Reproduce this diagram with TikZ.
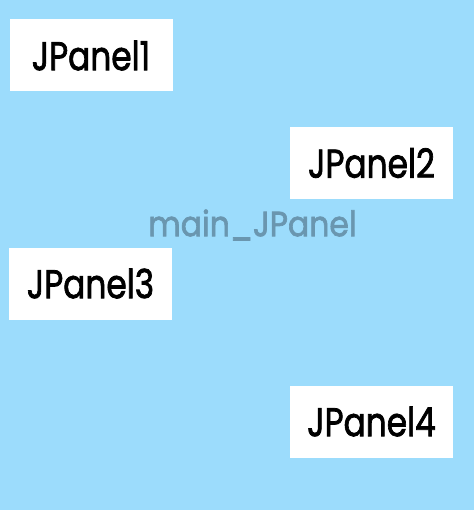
\documentclass[tikz,border=0pt]{standalone}
\usepackage{graphicx}
\usepackage{fontspec}
\setmainfont{Poppins}
\newfontfamily\panelfont[FakeBold=2]{Poppins}
\definecolor{panelbg}{HTML}{9CDCFC}
\definecolor{maintext}{HTML}{6A96AF}
\newcommand{\narrowtext}[2]{\scalebox{#1}[1]{#2}}

\begin{document}
\begin{tikzpicture}[x=1pt, y=1pt,
    panel/.style={fill=white, minimum width=163pt, minimum height=72pt, inner sep=0pt,
        font=\panelfont\fontsize{40}{40}\selectfont, text=black},
    mainlabel/.style={font=\panelfont\fontsize{35}{35}\selectfont, text=maintext, inner sep=0pt}]
    % background of main_JPanel
    \fill[panelbg] (0,0) rectangle (474,-510);
    \useasboundingbox (0,0) rectangle (474,-510);
    \node[mainlabel] (main) at (252.5,-225) {\narrowtext{0.9}{main\_JPanel}};
    \node[panel] (p1) at (91,-55.5) {\narrowtext{0.82}{JPanel1}};
    \node[panel] (p2) at (371.5,-163) {\narrowtext{0.82}{JPanel2}};
    \node[panel] (p3) at (90.5,-283.5) {\narrowtext{0.82}{JPanel3}};
    \node[panel] (p4) at (371.5,-421.5) {\narrowtext{0.82}{JPanel4}};
\end{tikzpicture}
\end{document}
